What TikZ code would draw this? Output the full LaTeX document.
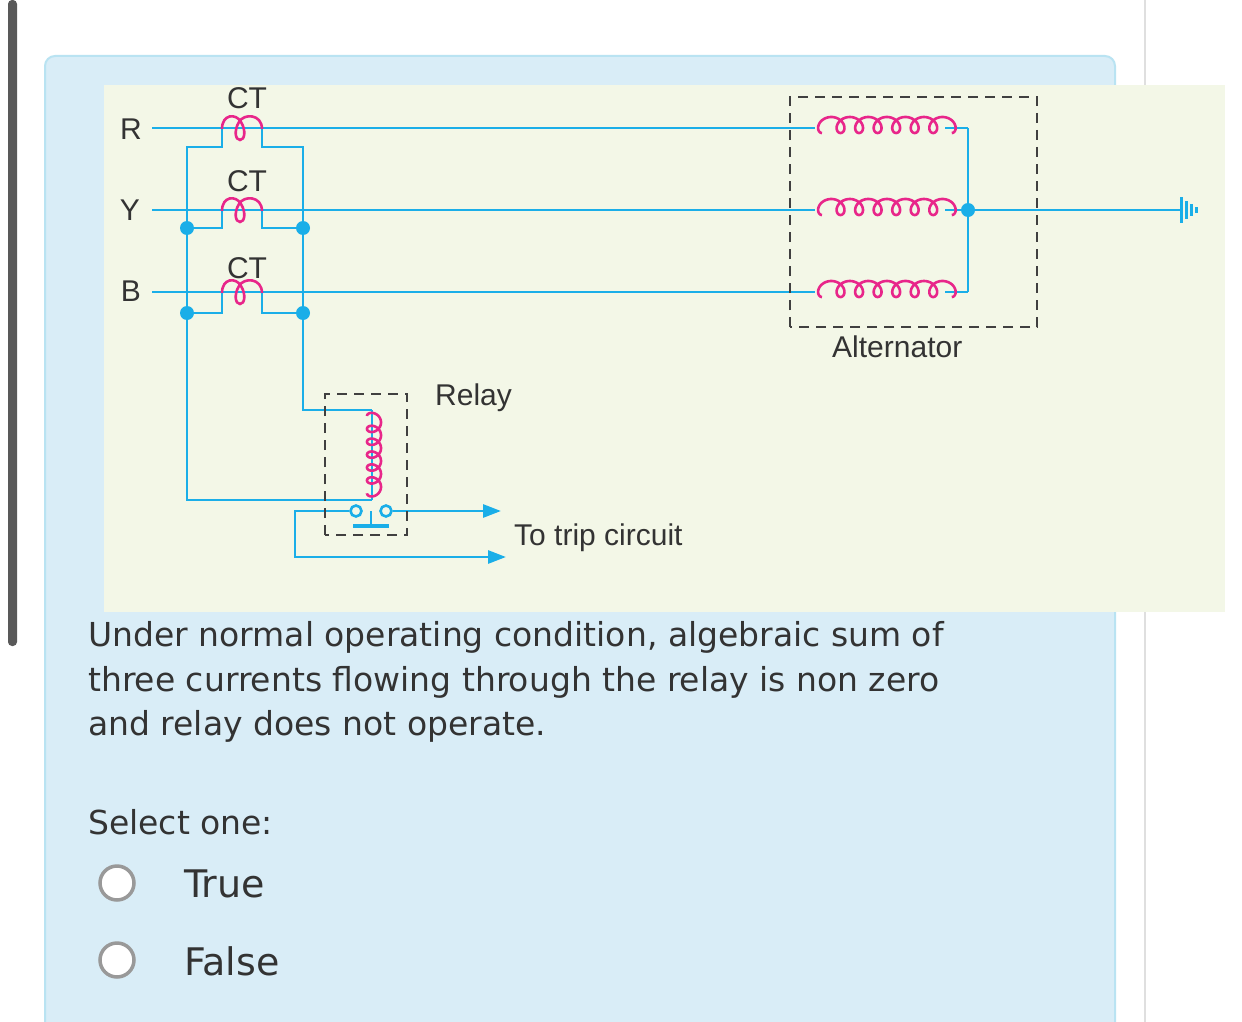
\documentclass[tikz,border=0pt]{standalone}
\usepackage{fontspec}
\usetikzlibrary{arrows.meta}
\setmainfont{DejaVu Sans}
\newfontfamily\diag{Liberation Sans}
\definecolor{wire}{HTML}{1AAEE8}
\definecolor{coilc}{HTML}{E8268A}
\definecolor{panel}{HTML}{D9EDF7}
\definecolor{panelb}{HTML}{B9E3F2}
\definecolor{paper}{HTML}{F3F7E7}
\definecolor{txt}{HTML}{333333}
\begin{document}
\begin{tikzpicture}[x=1pt,y=-1pt,
  w/.style={draw=wire,line width=2.8pt},
  coil/.style={draw=coilc,line width=2.6pt},
  dashb/.style={draw=black!75,line width=2.6pt,dash pattern=on 10pt off 7pt},
  dot/.style={circle,fill=wire,inner sep=0pt,minimum size=14pt},
  lab/.style={font=\diag\fontsize{30}{34}\selectfont,text=txt,inner sep=0pt},
  q/.style={font=\fontsize{33}{38}\selectfont,text=txt,anchor=west,inner sep=0pt},
  radio/.style={circle,draw=gray!80,line width=3.5pt,fill=white,minimum size=34pt,inner sep=0pt},
  >={Triangle[width=13pt,length=18pt]}]
\useasboundingbox (0,0) rectangle (1242,1022);
\fill[white] (0,0) rectangle (1242,1022);
\fill[gray!70!black,rounded corners=4pt] (8,0) rectangle (17,646);
\draw[gray!25,line width=2pt] (1145,0) -- (1145,1022);
\draw[panelb,fill=panel,line width=2pt,rounded corners=10pt] (45,1040) -- (45,56) -- (1115,56) -- (1115,1040);
\fill[paper] (104,85) rectangle (1225,612);
% labels
\node[lab] (lR) at (131,129) {R};
\node[lab] (lY) at (130,210) {Y};
\node[lab] (lB) at (131,291) {B};
\node[lab] (ct1) at (247,98) {CT};
\node[lab] (ct2) at (247,181) {CT};
\node[lab] (ct3) at (247,268) {CT};
\node[lab,anchor=west] (alt) at (832,347) {Alternator};
\node[lab,anchor=west] (rel) at (435,398) {Relay};
\node[lab,anchor=west] (trip) at (514,538) {To trip circuit};
% coordinates
\foreach \n/\y in {R/128,Y/210,B/292}{
  \coordinate (s\n) at (152,\y);
  \coordinate (a\n) at (815,\y);
  \coordinate (b\n) at (945,\y);
  \coordinate (k\n) at (968,\y);
}
\coordinate (gnd) at (1181,210);
% lines
\foreach \n/\y in {R/128,Y/210,B/292}{
  \draw[w] (s\n) -- (a\n);
  \draw[w] (b\n) -- (k\n);
  \draw[coil] plot[domain=0:14*pi,samples=300,variable=\t] ({822+2.95*\t-8*sin(\t r)},{\y-3+8*cos(\t r)});
}
\foreach \y in {128,210,292}{
  \draw[coil] (222,\y+1) .. controls (222,\y-14) and (236,\y-15) .. (241,\y-6)
     .. controls (246,\y+2) and (245,\y+12) .. (240,\y+12)
     .. controls (235,\y+12) and (234,\y+2) .. (239,\y-6)
     .. controls (244,\y-15) and (262,\y-14) .. (262,\y+1);
}
% star point and ground
\draw[w] (kR) -- (kB);
\node[dot] (star) at (kY) {};
\draw[w] (star) -- (gnd);
\draw[wire,line width=3pt] (1181,197) -- (1181,223);
\draw[wire,line width=3pt] (1186,201) -- (1186,219);
\draw[wire,line width=3pt] (1191,204) -- (1191,216);
\draw[wire,line width=3pt] (1196,207) -- (1196,213);
% CT secondaries
\node[dot] (lj2) at (187,228) {};
\node[dot] (rj2) at (303,228) {};
\node[dot] (lj3) at (187,313) {};
\node[dot] (rj3) at (303,313) {};
\draw[w] (222,129) -- (222,147) -- (187,147) -- (187,500) -- (372,500);
\draw[w] (262,129) -- (262,147) -- (303,147) -- (303,410) -- (372,410);
\draw[w] (222,211) -- (222,228) -- (lj2);
\draw[w] (262,211) -- (262,228) -- (rj2);
\draw[w] (222,293) -- (222,313) -- (lj3);
\draw[w] (262,293) -- (262,313) -- (rj3);
% relay coil
\draw[w] (372,410) -- (372,500);
\draw[coil] plot[domain=0:12*pi,samples=300,variable=\t] ({374-7*cos(\t r)},{416+2.05*\t-6*sin(\t r)});
% contacts
\node[circle,draw=wire,line width=2.6pt,minimum size=11pt,inner sep=0pt,fill=paper] (c1) at (356,511) {};
\node[circle,draw=wire,line width=2.6pt,minimum size=11pt,inner sep=0pt,fill=paper] (c2) at (386,511) {};
\coordinate (o1) at (501,511);
\coordinate (o2) at (506,557);
\draw[w,->] (c2) -- (o1);
\draw[w,->] (c1) -- (295,511) -- (295,557) -- (o2);
\draw[w] (371,511) -- (371,525);
\draw[wire,line width=3.5pt] (353,526) -- (389,526);
% dashed boxes
\draw[dashb] (325,535) -- (325,394) -- (407,394) -- (407,535) -- cycle;
\draw[dashb] (790,327) -- (790,97) -- (1037,97) -- (1037,327) -- cycle;
% question
\node[q] (q1) at (88,637) {Under normal operating condition, algebraic sum of};
\node[q] (q2) at (88,682) {three currents flowing through the relay is non zero};
\node[q] (q3) at (88,726) {and relay does not operate.};
\node[q] (sel) at (88,822) {Select one:};
\node[radio] (r1) at (117,883) {};
\node[radio] (r2) at (117,960) {};
\node[q,font=\fontsize{38}{42}\selectfont] (t) at (184,884) {True};
\node[q,font=\fontsize{38}{42}\selectfont] (f) at (184,961) {False};
\end{tikzpicture}
\end{document}
